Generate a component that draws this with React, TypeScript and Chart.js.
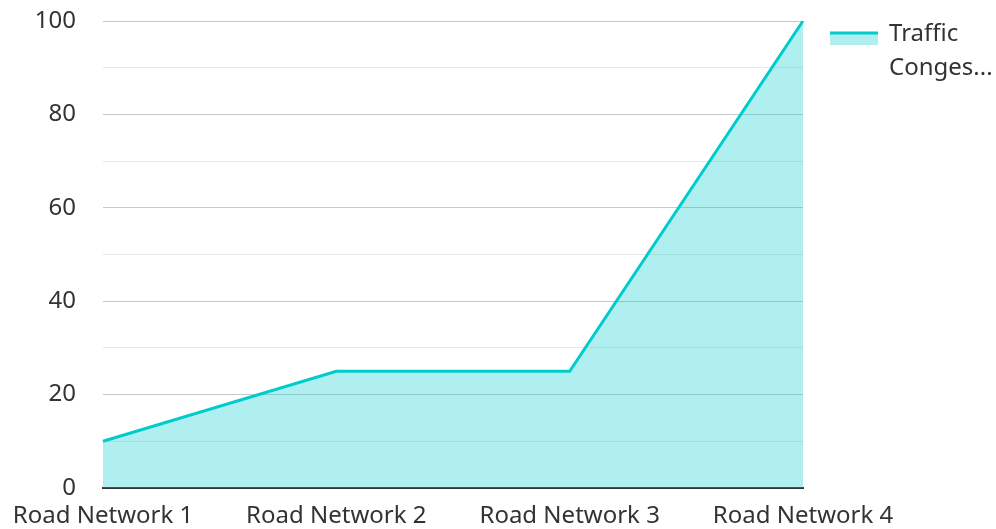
import React, { useEffect, useRef } from "react";
import { Chart, registerables } from "chart.js";

Chart.register(...registerables);

const categories = ["Road Network 1", "Road Network 2", "Road Network 3", "Road Network 4"];
const congestion = [10, 25, 25, 100];
const seriesLabel = ["Traffic", "Conges..."];

const LINE = "#00cccc";
const FILL = "rgba(0, 204, 204, 0.31)";
const FONT = "'Noto Sans', sans-serif";
const TEXT = "#333333";

const legendPlugin = {
  id: "sideLegend",
  afterDraw(chart: any) {
    const ctx = chart.ctx;
    const area = chart.chartArea;
    const x0 = area.right + 27;
    const y0 = 33;
    ctx.save();
    ctx.fillStyle = FILL;
    ctx.fillRect(x0, y0, 48, 12);
    ctx.strokeStyle = LINE;
    ctx.lineWidth = 3;
    ctx.beginPath();
    ctx.moveTo(x0, y0);
    ctx.lineTo(x0 + 48, y0);
    ctx.stroke();
    ctx.fillStyle = TEXT;
    ctx.font = `24px ${FONT}`;
    ctx.textBaseline = "middle";
    ctx.textAlign = "left";
    seriesLabel.forEach((t, i) => ctx.fillText(t, x0 + 59, y0 + 1 + i * 34));
    ctx.restore();
  },
};

export default function App() {
  const ref = useRef<HTMLCanvasElement>(null);
  useEffect(() => {
    if (!ref.current) return;
    const chart = new Chart(ref.current, {
      type: "line",
      data: {
        labels: categories,
        datasets: [
          {
            label: seriesLabel.join(" "),
            data: congestion,
            borderColor: LINE,
            backgroundColor: FILL,
            borderWidth: 3,
            fill: "origin",
            pointRadius: 0,
            tension: 0,
          },
        ],
      },
      options: {
        animation: false,
        responsive: true,
        maintainAspectRatio: false,
        layout: { padding: { top: 21, right: 193, bottom: 0, left: 0 } },
        plugins: { legend: { display: false }, tooltip: { enabled: false } },
        scales: {
          x: {
            offset: false,
            afterFit(scale: any) {
              scale.height = 41;
            },
            grid: { display: false },
            border: { display: true, color: "#333333", width: 2 },
            ticks: { color: TEXT, font: { family: FONT, size: 24 }, padding: 6, maxRotation: 0, autoSkip: false },
          },
          y: {
            min: 0,
            max: 100,
            afterFit(scale: any) {
              scale.width = 103;
              scale.paddingTop = 0;
              scale.paddingBottom = 0;
            },
            border: { display: false },
            grid: {
              drawTicks: false,
              color: (c: any) => (c.tick && c.tick.value % 20 === 0 ? "#c8c8c8" : "#e6e6e6"),
              lineWidth: 1,
            },
            ticks: {
              stepSize: 10,
              padding: 27,
              color: TEXT,
              font: { family: FONT, size: 24 },
              callback: (v: any) => (Number(v) % 20 === 0 ? String(v) : ""),
            },
          },
        },
      },
      plugins: [legendPlugin],
    });
    return () => chart.destroy();
  }, []);
  return (
    <div style={{ position: "fixed", left: 0, top: 0, width: 996, height: 529, background: "#fff" }}>
      <canvas ref={ref} />
    </div>
  );
}
